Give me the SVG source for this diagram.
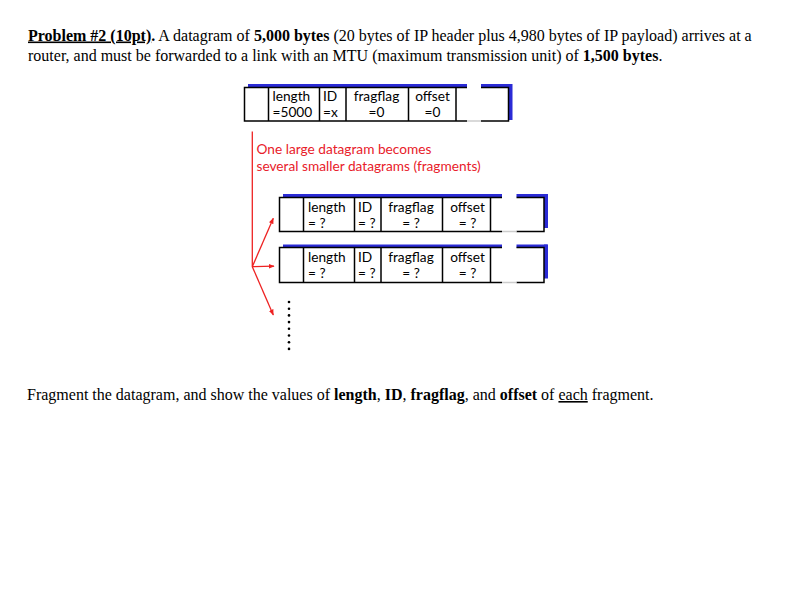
<svg xmlns="http://www.w3.org/2000/svg" width="789" height="604" viewBox="0 0 789 604">
<style>
.t{font-family:"Liberation Serif","Times New Roman",serif;font-size:16px;fill:#000}
.b{font-weight:bold}
.u{text-decoration:underline}
.c{font-family:Lato,"Liberation Sans",Arial,sans-serif;font-size:13.7px;fill:#000}
.m{text-anchor:middle}
.r{font-family:Lato,"Liberation Sans",Arial,sans-serif;font-size:13.7px;fill:#e8202a}
.box{fill:none;stroke:#000;stroke-width:1.5}
.blue{fill:#2b2bd6}
.red{stroke:#ee2222;stroke-width:1.3;fill:none}
</style>
<defs>
<marker id="ah" viewBox="0 0 10 10" refX="9" refY="5" markerWidth="6" markerHeight="6" orient="auto" markerUnits="userSpaceOnUse">
<path d="M0,1 L10,5 L0,9 z" fill="#ee2222"/>
</marker>
</defs>
<rect width="789" height="604" fill="#fff"/>
<g id="heading">
<text class="t" x="28" y="40.5"><tspan class="b u">Problem #2 (10pt)</tspan><tspan class="b">.</tspan> A datagram of <tspan class="b">5,000 bytes</tspan> (20 bytes of IP header plus 4,980 bytes of IP payload) arrives at a</text>
<text class="t" x="28" y="61">router, and must be forwarded to a link with an MTU (maximum transmission unit) of <tspan class="b">1,500 bytes</tspan>.</text>
</g>
<g id="original">
<rect class="blue" x="248" y="84" width="219" height="3"/>
<rect class="blue" x="481" y="84" width="31" height="3"/>
<rect class="blue" x="508.5" y="84" width="4" height="36"/>
<path class="box" d="M467,87.5 H244.5 V121 H467 M481,121 H508.5 V87.5 H481 M268.5,87.5 V121 M319.5,87.5 V121 M346,87.5 V121 M408.5,87.5 V121 M456,87.5 V121"/>
<path d="M467,121 H481" stroke="#ccc" stroke-width="1.5"/>
<text class="c" x="272.5" y="100.5">length</text>
<text class="c" x="323" y="100.5">ID</text>
<text class="c m" x="376.5" y="100.5">fragflag</text>
<text class="c m" x="432.5" y="100.5">offset</text>
<text class="c" x="272.5" y="117">=5000</text>
<text class="c" x="323" y="117">=x</text>
<text class="c m" x="376.5" y="117">=0</text>
<text class="c m" x="432.5" y="117">=0</text>
</g>
<g id="note">
<text class="r" x="256.5" y="154">One large datagram becomes</text>
<text class="r" x="256.5" y="170.5">several smaller datagrams (fragments)</text>
</g>
<g id="fragment1">
<rect class="blue" x="283" y="194" width="219" height="3"/>
<rect class="blue" x="516.5" y="194" width="31" height="3"/>
<rect class="blue" x="544" y="194" width="4" height="34"/>
<path class="box" d="M502,197.5 H279.5 V231.5 H502 M516.5,231.5 H544 V197.5 H516.5 M303.5,197.5 V231.5 M354.5,197.5 V231.5 M381,197.5 V231.5 M442.5,197.5 V231.5 M490.5,197.5 V231.5"/>
<path d="M502,231.5 H516.5" stroke="#ccc" stroke-width="1.5"/>
<text class="c" x="308" y="211.5">length</text>
<text class="c" x="358" y="211.5">ID</text>
<text class="c m" x="411" y="211.5">fragflag</text>
<text class="c m" x="467.5" y="211.5">offset</text>
<text class="c" x="308" y="228">= ?</text>
<text class="c" x="358" y="228">= ?</text>
<text class="c m" x="411" y="228">= ?</text>
<text class="c m" x="467.5" y="228">= ?</text>
</g>
<g id="fragment2">
<rect class="blue" x="283" y="244.5" width="219" height="3"/>
<rect class="blue" x="516.5" y="244.5" width="31" height="3"/>
<rect class="blue" x="544" y="244.5" width="4" height="34"/>
<path class="box" d="M502,247.5 H279.5 V282.5 H502 M516.5,282.5 H544 V247.5 H516.5 M303.5,247.5 V282.5 M354.5,247.5 V282.5 M381,247.5 V282.5 M442.5,247.5 V282.5 M490.5,247.5 V282.5"/>
<path d="M502,282.5 H516.5" stroke="#ccc" stroke-width="1.5"/>
<text class="c" x="308" y="261.5">length</text>
<text class="c" x="358" y="261.5">ID</text>
<text class="c m" x="411" y="261.5">fragflag</text>
<text class="c m" x="467.5" y="261.5">offset</text>
<text class="c" x="308" y="278">= ?</text>
<text class="c" x="358" y="278">= ?</text>
<text class="c m" x="411" y="278">= ?</text>
<text class="c m" x="467.5" y="278">= ?</text>
</g>
<g id="connectors">
<path class="red" d="M252.3,131.5 V266.7"/>
<path class="red" d="M252.3,266.7 L273.3,218.3" marker-end="url(#ah)"/>
<path class="red" d="M252.3,266.7 L274,266.2" marker-end="url(#ah)"/>
<path class="red" d="M252.3,266.7 L273.3,315" marker-end="url(#ah)"/>
</g>
<g id="dots" fill="#000">
<circle cx="289" cy="302" r="1.3"/>
<circle cx="289" cy="308.7" r="1.3"/>
<circle cx="289" cy="315.4" r="1.3"/>
<circle cx="289" cy="322.1" r="1.3"/>
<circle cx="289" cy="328.8" r="1.3"/>
<circle cx="289" cy="335.5" r="1.3"/>
<circle cx="289" cy="342.2" r="1.3"/>
<circle cx="289" cy="348.9" r="1.3"/>
</g>
<g id="question">
<text class="t" x="27" y="400">Fragment the datagram, and show the values of <tspan class="b">length</tspan>, <tspan class="b">ID</tspan>, <tspan class="b">fragflag</tspan>, and <tspan class="b">offset</tspan> of <tspan class="u">each</tspan> fragment.</text>
</g>
</svg>
